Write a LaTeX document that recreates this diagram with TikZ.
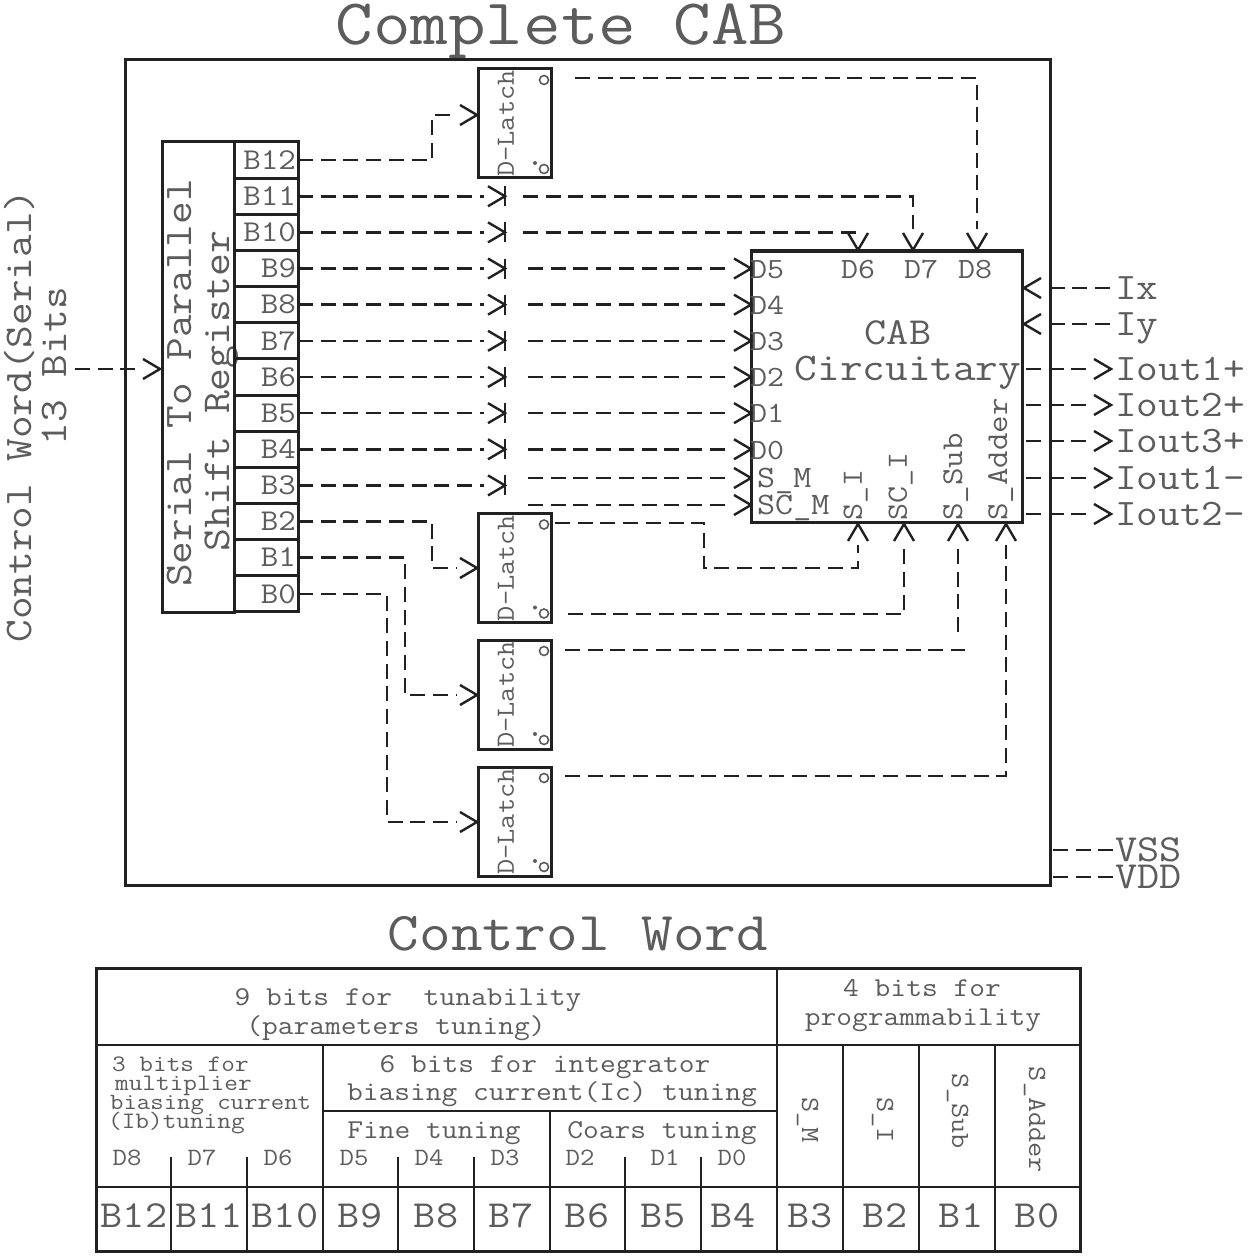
\documentclass[tikz,border=0pt]{standalone}
\usepackage{graphicx}
\usetikzlibrary{decorations.markings}
\definecolor{ink}{gray}{0.13}
\definecolor{txt}{gray}{0.36}
\newcommand{\tx}[2]{\fontsize{#1}{#1}\selectfont\ttfamily\raisebox{0pt}[.54em][0pt]{\scalebox{1}[.89]{#2}}}
\tikzset{
  x=1pt,y=-1pt,
  frame/.style={draw=ink,line width=3pt,line join=miter,outer sep=0pt},
  rule/.style={draw=ink,line width=2.6pt},
  wire/.style={draw=ink,line width=2.6pt,dash pattern=on 15pt off 7.7pt},
  tip/.style={wire,shorten >=21pt,postaction={decorate,decoration={markings,
    mark=at position 1 with {\draw[draw=ink,line width=2.4pt,solid,line join=miter,shorten >=0pt] (-17pt,10pt) -- (0pt,0pt) -- (-17pt,-10pt);}}}},
  lab/.style={inner sep=0pt,text=txt,anchor=center},
  labw/.style={inner sep=0pt,text=txt,anchor=west},
  cell/.style={frame,minimum width=64pt,minimum height=36.15pt,inner sep=0pt,inner xsep=2pt,text width=60pt,align=right,text=txt},
  latch/.style={frame,minimum width=73pt,minimum height=109pt,inner sep=0pt},
}
\begin{document}
\begin{tikzpicture}
\useasboundingbox (0,0) rectangle (1250,1257);
\node[lab] (title) at (561,25) {\tx{73}{Complete CAB}};
\node[frame,minimum width=925pt,minimum height=825pt,anchor=north west,inner sep=0pt] (outer) at (125,60) {};

% shift register
\node[frame,minimum width=72pt,minimum height=470pt,anchor=north west,inner sep=0pt] (sr) at (162,142) {};
\node[lab,rotate=90] (srt1) at (180,383) {\tx{44}{Serial To Parallel}};
\node[lab,rotate=90] (srt2) at (217,391) {\tx{44.5}{Shift Register}};
\foreach \n [count=\i from 0] in {12,11,10,9,8,7,6,5,4,3,2,1,0}{
  \pgfmathsetmacro{\yy}{142+36.15*(\i+0.5)}
  \node[cell] (B\n) at (266,\yy) {\tx{34}{B\n}};
}
% latches
\foreach \n/\yy in {a/123.5,b/568,c/694.5,d/821.5}{
  \node[latch] (L\n) at (514.5,\yy) {};
  \node[lab,rotate=90] (L\n t) at (506,\yy) {\tx{29.5}{D-Latch}};
  \draw[draw=txt,line width=1.6pt] ([shift={(-7,11)}]L\n.north east) circle[radius=4.5pt];
  \draw[draw=txt,line width=1.6pt] ([shift={(-7,-9)}]L\n.south east) circle[radius=4.5pt];
  \fill[txt] ([shift={(-16,-15)}]L\n.south east) circle[radius=2pt];
}
% CAB
\node[frame,minimum width=271pt,minimum height=271pt,anchor=north west,inner sep=0pt] (CAB) at (751,251) {};
\node[lab] (cab1) at (898,333) {\tx{43}{CAB}};
\node[lab] (cab2) at (908,369) {\tx{44}{Circuitary}};
\foreach \t/\yy in {D5/270,D4/306,D3/342,D2/378,D1/414,D0/451}{
  \node[labw] (t\t) at (750,\yy) {\tx{33}{\t}};
}
\node[lab] (tD6) at (858,270) {\tx{33}{D6}};
\node[lab] (tD7) at (921,270) {\tx{33}{D7}};
\node[lab] (tD8) at (975,270) {\tx{33}{D8}};
\node[labw] (tSM) at (757,478) {\tx{35}{S\_M}};
\node[labw] (tSCM) at (757,505) {\tx{35}{SC\_M}};
\node[labw,rotate=90] (tSI) at (853,521) {\tx{33}{S\_I}};
\node[labw,rotate=90] (tSCI) at (898,521) {\tx{33}{SC\_I}};
\node[labw,rotate=90] (tSS) at (953,521) {\tx{34}{S\_Sub}};
\node[labw,rotate=90] (tSA) at (998,521) {\tx{34}{S\_Adder}};

% input
\node[lab,rotate=90] (cw1) at (20,416) {\tx{44}{Control Word(Serial)}};
\node[lab,rotate=90] (cw2) at (55,366) {\tx{44}{13 Bits}};
\coordinate (cwin) at (75,369);
\coordinate (cwend) at (160,369);
\draw[tip] (cwin) -- (cwend);

% connectors from the register
\coordinate (LaIn) at (477,115);
\coordinate (LbIn) at (477,568);
\coordinate (LcIn) at (477,695);
\coordinate (LdIn) at (477,822);
\draw[tip] (B12.east) -- ++(134,0) |- (LaIn);
\draw[tip] (B2.east) -- ++(134,0) |- (LbIn);
\draw[tip] (B1.east) -- ++(107,0) |- (LcIn);
\draw[tip] (B0.east) -- ++(89,0) |- (LdIn);
\foreach \n in {11,10,9,8,7,6,5,4,3}{
  \path (B\n.east) ++(207,0) coordinate (T\n);
  \draw[tip] (B\n.east) -- (T\n);
  \draw[draw=ink,line width=2.6pt] (T\n) ++(0,-10) -- ++(0,20);
}
\foreach \n in {9,8,7,6,5,4}{
  \path (T\n) ++(23,0) coordinate (S\n);
  \draw[tip] (S\n) -- (S\n -| CAB.west);
}
\coordinate (c11) at (913,250);
\coordinate (c10) at (858,250);
\coordinate (c8) at (977,250);
\path (T11) ++(18,0) coordinate (S11);
\path (T10) ++(18,0) coordinate (S10);
\draw[tip] (S11) -| (c11);
\draw[tip] (S10) -| (c10);
\coordinate (sm) at (528,478);
\coordinate (scm) at (528,505);
\draw[tip] (sm) -- (sm -| CAB.west);
\draw[tip] (scm) -- (scm -| CAB.west);

% latch outputs
\coordinate (oa) at (575,78);
\draw[tip] (oa) -| (c8);
\coordinate (ob) at (555,523);
\coordinate (cSI) at (858,524);
\draw[tip] (ob) -- (704,523) -- (704,568) -| (cSI);
\coordinate (ob2) at (568,614);
\coordinate (cSCI) at (904,524);
\draw[tip] (ob2) -| (cSCI);
\coordinate (oc) at (565,650);
\coordinate (oce) at (965,650);
\draw[wire] (oc) -- (oce);
\coordinate (cSS) at (958,524);
\coordinate (cSSs) at (958,632);
\draw[tip] (cSSs) -- (cSS);
\coordinate (od) at (565,776);
\coordinate (cSA) at (1006,524);
\draw[tip] (od) -| (cSA);

% right side
\foreach \t/\yy in {Ix/288,Iy/324}{
  \node[labw] (n\t) at (1115,\yy) {\tx{42}{\t}};
  \path (CAB.east |- n\t.west) ++(2,0) coordinate (r\t);
  \draw[tip] (n\t.west) ++(-5,0) -- (r\t);
}
\foreach \t/\nm/\yy in {Iout1+/p1/369,Iout2+/p2/405,Iout3+/p3/441,Iout1-/m1/478,Iout2-/m2/514}{
  \node[labw] (n\nm) at (1115,\yy) {\tx{42}{\t}};
  \path (n\nm.west) ++(-4,0) coordinate (q\nm);
  \draw[tip] (CAB.east |- n\nm.west) ++(4,0) -- (q\nm);
}
\foreach \t/\yy in {VSS/850,VDD/877}{
  \node[labw] (n\t) at (1115,\yy) {\tx{43}{\t}};
  \draw[wire] (outer.east |- n\t.west) ++(3,0) -- (n\t.west);
}

% table
\node[lab] (cwt) at (578,934) {\tx{61.5}{Control Word}};
\node[frame,minimum width=984pt,minimum height=283pt,anchor=north west,inner sep=0pt] (tab) at (96,968) {};
\coordinate (h1) at (96,1045);
\coordinate (h1e) at (1080,1045);
\coordinate (h2) at (96,1187);
\coordinate (h2e) at (1080,1187);
\draw[rule] (h1) -- (h1e);
\draw[rule] (h2) -- (h2e);
\draw[rule] (777,968) -- (777,1251);
\draw[rule] (323,1045) -- (323,1251);
\draw[rule] (323,1111) -- (777,1111);
\draw[rule] (550,1111) -- (550,1251);
\foreach \xx in {171,247,398,474,625,701}{\draw[rule] (\xx,1157) -- (\xx,1251);}
\foreach \xx in {843,919,995}{\draw[rule] (\xx,1045) -- (\xx,1251);}

\node[lab] (a1) at (408,997) {\tx{30.6}{9 bits for\ \ tunability}};
\node[lab] (a2) at (396,1026) {\tx{30.6}{(parameters tuning)}};
\node[lab] (a3) at (922,988) {\tx{30.6}{4 bits for}};
\node[lab] (a4) at (923,1017) {\tx{30.6}{programmability}};
\node[labw] (b1) at (112,1064) {\tx{26.5}{3 bits for}};
\node[labw] (b2) at (115,1083) {\tx{26.5}{multiplier}};
\node[labw] (b3) at (110,1102) {\tx{26}{biasing current}};
\node[labw] (b4) at (108,1121) {\tx{26.5}{(Ib)tuning}};
\node[lab] (c1) at (545,1064) {\tx{30.6}{6 bits for integrator}};
\node[lab] (c2) at (552,1092) {\tx{30.6}{biasing current(Ic) tuning}};
\node[lab] (c3) at (434,1130) {\tx{30.6}{Fine tuning}};
\node[lab] (c4) at (662,1130) {\tx{30.6}{Coars tuning}};
\foreach \t/\xx in {D8/127,D7/202,D6/278,D5/354,D4/429,D3/505,D2/580,D1/665,D0/732}{
  \node[lab] (d\t) at (\xx,1158) {\tx{28}{\t}};
}
\foreach \t/\xx in {B12/134,B11/209,B10/285,B9/360,B8/436,B7/511,B6/587,B5/663,B4/733,B3/810,B2/885,B1/961,B0/1037}{
  \node[lab] (e\t) at (\xx,1216) {\tx{43}{\t}};
}
\node[lab,rotate=-90] (f1) at (810,1120) {\tx{29.5}{S\_M}};
\node[lab,rotate=-90] (f2) at (885,1120) {\tx{29.5}{S\_I}};
\node[lab,rotate=-90] (f3) at (960,1111) {\tx{29.5}{S\_Sub}};
\node[lab,rotate=-90] (f4) at (1037,1120) {\tx{29.5}{S\_Adder}};
\end{tikzpicture}
\end{document}
